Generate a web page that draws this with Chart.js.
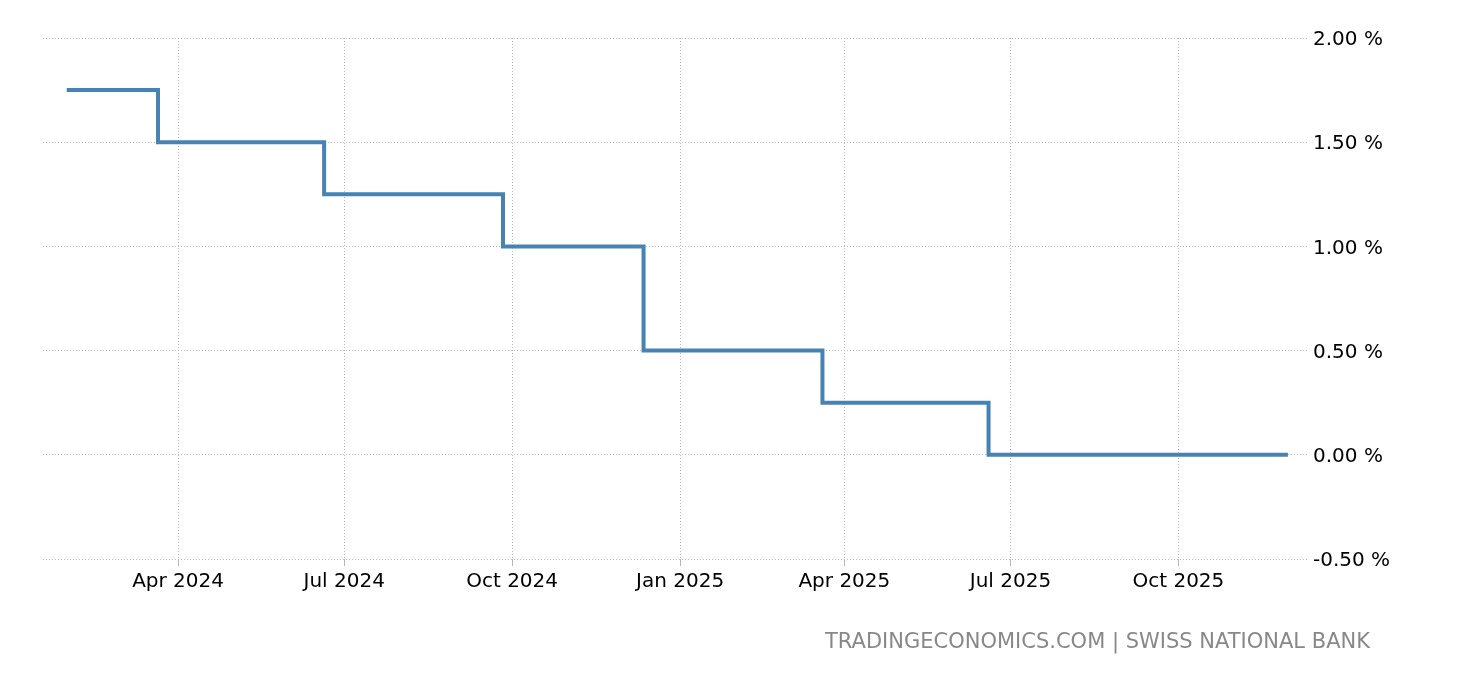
<!DOCTYPE html>
<html>
<head>
<meta charset="utf-8">
<script src="https://cdn.jsdelivr.net/npm/chart.js@4/dist/chart.umd.min.js"></script>
<style>
  html, body { margin: 0; padding: 0; background: #fff; }
  #wrap { position: relative; width: 1460px; height: 680px; }
</style>
</head>
<body>
<div id="wrap"><canvas id="c" width="1460" height="680"></canvas></div>
<script>
// ---- data ----
const dates = [
  '2024-01-31','2024-02-29','2024-03-21','2024-03-31','2024-04-30','2024-05-31',
  '2024-06-20','2024-06-30','2024-07-31','2024-08-31','2024-09-26','2024-09-30',
  '2024-10-31','2024-11-30','2024-12-12','2024-12-31','2025-01-31','2025-02-28',
  '2025-03-20','2025-03-31','2025-04-30','2025-05-31','2025-06-19','2025-06-30',
  '2025-07-31','2025-08-31','2025-09-30','2025-10-31','2025-11-30'
];
const rates = [
  1.75, 1.75, 1.50, 1.50, 1.50, 1.50,
  1.25, 1.25, 1.25, 1.25, 1.00, 1.00,
  1.00, 1.00, 0.50, 0.50, 0.50, 0.50,
  0.25, 0.25, 0.25, 0.25, 0.00, 0.00,
  0.00, 0.00, 0.00, 0.00, 0.00
];
const tickDates = ['2024-04-01','2024-07-01','2024-10-01','2025-01-01','2025-04-01','2025-07-01','2025-10-01'];
const tickLabels = ['Apr 2024','Jul 2024','Oct 2024','Jan 2025','Apr 2025','Jul 2025','Oct 2025'];
const yTicks = [-0.5, 0, 0.5, 1.0, 1.5, 2.0];
const xRange = ['2024-01-18', '2025-12-11'];
const sourceText = 'TRADINGECONOMICS.COM | SWISS NATIONAL BANK';

// ---- helpers ----
const DAY = 86400000;
const toDay = s => Date.parse(s + 'T00:00:00Z') / DAY;
const points = dates.map((d, i) => ({ x: toDay(d), y: rates[i] }));
const tickDays = tickDates.map(toDay);

const FONT = 'DejaVu Sans';
const footer = {
  id: 'footer',
  afterDraw(chart) {
    const ctx = chart.ctx;
    ctx.save();
    ctx.font = '21px "' + FONT + '"';
    ctx.fillStyle = '#888888';
    ctx.textAlign = 'right';
    ctx.textBaseline = 'middle';
    ctx.fillText(sourceText, 1370, 643);
    ctx.restore();
  }
};

new Chart(document.getElementById('c'), {
  type: 'line',
  data: {
    datasets: [{
      data: points,
      borderColor: '#4682b4',
      borderWidth: 4,
      stepped: 'before',
      pointRadius: 0,
      fill: false
    }]
  },
  plugins: [footer],
  options: {
    responsive: false,
    animation: false,
    layout: { padding: { left: 43, right: 0, top: 38, bottom: 0 } },
    plugins: { legend: { display: false }, tooltip: { enabled: false } },
    scales: {
      x: {
        type: 'linear',
        min: toDay(xRange[0]),
        max: toDay(xRange[1]),
        afterBuildTicks(scale) { scale.ticks = tickDays.map(v => ({ value: v })); },
        afterFit(scale) { scale.height = 121; },
        ticks: {
          autoSkip: false,
          maxRotation: 0,
          padding: 4,
          color: '#000',
          font: { family: FONT, size: 20 },
          callback(v) { const i = tickDays.indexOf(v); return i >= 0 ? tickLabels[i] : ''; }
        },
        grid: {
          color: '#b8b8b8',
          lineWidth: 1,
          tickLength: 7,
          drawTicks: true
        },
        border: { display: false, dash: [1, 2] }
      },
      y: {
        position: 'right',
        min: -0.5,
        max: 2.0,
        afterBuildTicks(scale) { scale.ticks = yTicks.map(v => ({ value: v })); },
        afterFit(scale) { scale.width = 152; },
        ticks: {
          padding: 5,
          labelOffset: 2,
          color: '#000',
          font: { family: FONT, size: 20 },
          callback(v) { return v.toFixed(2) + ' %'; }
        },
        grid: {
          color: '#b8b8b8',
          lineWidth: 1,
          drawTicks: false
        },
        border: { display: false, dash: [1, 2] }
      }
    }
  }
});
</script>
</body>
</html>
